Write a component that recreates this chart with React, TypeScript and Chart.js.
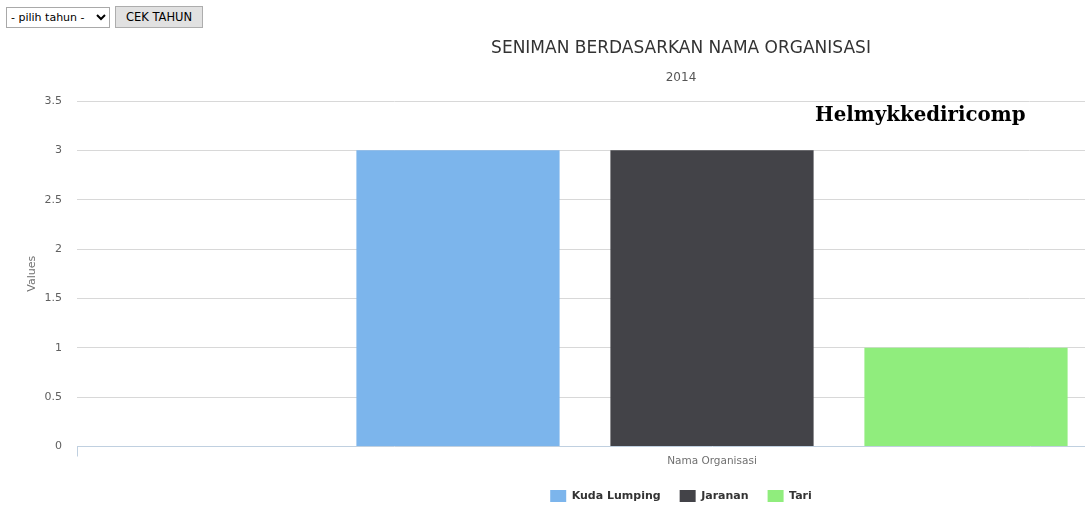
import React, { useEffect, useRef } from "react";
import { Chart, registerables } from "chart.js";

Chart.register(...registerables);

// ---- data ----
const categories = [""];
const seriesNames = ["Kuda Lumping", "Jaranan", "Tari"];
const kudaLumping = [3];
const jaranan = [3];
const tari = [1];
const seriesColors = ["#7cb5ec", "#434348", "#90ed7d"];
const yTicks = [0, 0.5, 1, 1.5, 2, 2.5, 3, 3.5];
const chartTitle = "SENIMAN BERDASARKAN NAMA ORGANISASI";
const chartSubtitle = "2014";
const xAxisTitle = "Nama Organisasi";
const yAxisTitle = "Values";
const yearOptions = ["- pilih tahun -"];
const buttonLabel = "CEK TAHUN";
const watermark = "Helmykkediricomp";

const seriesValues = [kudaLumping, jaranan, tari];

export default function App() {
  const canvasRef = useRef<HTMLCanvasElement | null>(null);

  useEffect(() => {
    if (!canvasRef.current) return;
    Chart.defaults.font.family = "'DejaVu Sans', sans-serif";
    const chart = new Chart(canvasRef.current, {
      type: "bar",
      data: {
        labels: categories,
        datasets: seriesNames.map((name, i) => ({
          label: name,
          data: seriesValues[i],
          backgroundColor: seriesColors[i],
          borderWidth: 0,
          categoryPercentage: 0.6,
          barPercentage: 0.8,
        })),
      },
      options: {
        animation: false,
        responsive: false,
        maintainAspectRatio: false,
        layout: { padding: 0 },
        plugins: {
          title: {
            display: true,
            text: chartTitle,
            color: "#333333",
            font: { size: 17, weight: "normal" },
            padding: { top: 10, bottom: 0 },
          },
          subtitle: {
            display: true,
            text: chartSubtitle,
            color: "#555555",
            font: { size: 12 },
            padding: { top: 12.4, bottom: 15.8 },
          },
          legend: {
            position: "bottom",
            labels: {
              boxWidth: 16,
              boxHeight: 12,
              padding: 19,
              color: "#333333",
              font: { size: 11, weight: "bold" },
            },
          },
          tooltip: { enabled: false },
        },
        scales: {
          x: {
            grid: {
              display: true,
              drawOnChartArea: false,
              drawTicks: true,
              tickLength: 10,
              color: "#C0D0E0",
              offset: true,
            },
            border: { display: true, color: "#C0D0E0" },
            ticks: { display: false },
            title: {
              display: true,
              text: xAxisTitle,
              color: "#707070",
              font: { size: 10.5, lineHeight: 1 },
              padding: { top: 0, bottom: 4 },
            },
          },
          y: {
            min: 0,
            max: 3.5,
            afterBuildTicks: (scale: any) => {
              scale.ticks = yTicks.map((v) => ({ value: v }));
            },
            afterFit: (scale: any) => {
              scale.width = 77;
            },
            grid: {
              color: (ctx: any) =>
                ctx.tick && ctx.tick.value === 0 ? "rgba(0,0,0,0)" : "#D8D8D8",
              drawTicks: false,
            },
            border: { display: false },
            ticks: {
              padding: 15,
              color: "#606060",
              font: { size: 11 },
              callback: (v: any) => String(v),
            },
            title: {
              display: true,
              text: yAxisTitle,
              color: "#707070",
              font: { size: 11 },
              padding: { top: 25.4, bottom: 5.9 },
            },
          },
          yRight: {
            type: "linear",
            position: "right",
            display: true,
            grid: { display: false, drawTicks: false },
            border: { display: false },
            ticks: { display: false },
            afterFit: (scale: any) => {
              scale.width = 15;
            },
          },
        },
      },
    });
    return () => chart.destroy();
  }, []);

  return (
    <div
      style={{
        position: "fixed",
        left: 0,
        top: 0,
        width: "100vw",
        height: "100vh",
        overflow: "hidden",
        background: "#ffffff",
      }}
    >
      <select
        style={{
          position: "absolute",
          left: 6,
          top: 7,
          width: 104,
          height: 21,
          fontFamily: "'DejaVu Sans', sans-serif",
          fontSize: 11,
          border: "1px solid #a9a9a9",
          background: "#fff",
          padding: 0,
        }}
        defaultValue={yearOptions[0]}
      >
        {yearOptions.map((o) => (
          <option key={o}>{o}</option>
        ))}
      </select>
      <button
        style={{
          position: "absolute",
          left: 115,
          top: 6,
          width: 88,
          height: 22,
          fontFamily: "'DejaVu Sans', sans-serif",
          fontSize: 11.5,
          border: "1px solid #adadad",
          background: "#e1e1e1",
          color: "#000",
          padding: 0,
        }}
      >
        {buttonLabel}
      </button>
      <canvas
        ref={canvasRef}
        width={1362}
        height={484}
        style={{ position: "absolute", left: 0, top: 28, width: 1362, height: 484 }}
      />
      <div
        style={{
          position: "absolute",
          left: 815,
          top: 102,
          fontFamily: "'DejaVu Serif', serif",
          fontWeight: "bold",
          fontSize: 19.8,
          lineHeight: "24px",
          color: "#000",
          whiteSpace: "nowrap",
        }}
      >
        {watermark}
      </div>
    </div>
  );
}
